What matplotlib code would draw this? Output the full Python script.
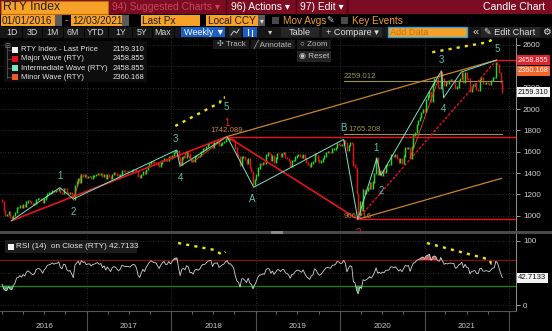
import numpy as np
import pandas as pd
import matplotlib
matplotlib.use("Agg")
import matplotlib.pyplot as plt
import matplotlib.dates as mdates
from matplotlib.patches import Rectangle

# ---------------- data ----------------
warmup_close = [1138.0, 1116.0, 1124.0, 1158.0, 1162.0, 1160.0, 1161.0, 1199.0,
                1149.0, 1180.0, 1198.0, 1177.0, 1115.0, 1123.0, 1151.0]
warmup_start, warmup_end = "2015-09-18", "2015-12-25"

close_2016 = [1135.9, 1046.2, 1007.4, 1008.9, 1035.4, 987.4, 970.8, 1002.8, 1027.4,
              1073.8, 1078.8, 1097.8, 1077.6, 1103.9, 1087.5, 1127.6, 1143.7, 1130.8,
              1114.9, 1103.0, 1111.0, 1154.8, 1163.9, 1163.9, 1150.7, 1127.0, 1157.3,
              1177.2, 1206.3, 1212.8, 1219.9, 1236.1, 1227.2, 1238.4, 1238.2, 1251.8,
              1219.5, 1212.0, 1254.7, 1251.6, 1219.0, 1208.0, 1213.5, 1187.5, 1156.9,
              1282.4, 1315.6, 1347.2, 1315.8, 1388.1, 1371.6, 1383.4, 1357.1]
close_2017 = [1367.0, 1370.3, 1352.0, 1372.4, 1377.8, 1389.2, 1397.2, 1385.9, 1394.0,
              1366.4, 1385.9, 1354.4, 1385.9, 1369.5, 1348.5, 1387.9, 1400.4, 1396.3,
              1381.5, 1368.9, 1383.8, 1424.6, 1419.0, 1415.3, 1414.8, 1415.4, 1411.7,
              1426.6, 1434.6, 1432.0, 1417.5, 1372.5, 1357.0, 1385.5, 1413.5, 1398.1,
              1435.5, 1461.6, 1490.9, 1510.2, 1502.7, 1498.0, 1497.6, 1482.3, 1465.0,
              1494.9, 1518.9, 1535.8, 1518.1, 1518.8, 1548.9, 1535.5]
close_2018 = [1560.0, 1590.6, 1605.2, 1608.0, 1547.1, 1477.8, 1544.9, 1556.0, 1544.6,
              1597.3, 1586.0, 1527.9, 1529.4, 1510.1, 1554.0, 1567.3, 1558.0, 1567.0,
              1605.0, 1627.2, 1626.0, 1647.9, 1672.3, 1683.9, 1685.5, 1643.1, 1688.1,
              1687.0, 1692.0, 1658.7, 1672.6, 1687.4, 1696.3, 1725.7, 1740.8, 1719.7,
              1721.8, 1709.4, 1696.6, 1634.1, 1573.0, 1552.1, 1469.4, 1549.5, 1549.5,
              1523.8, 1488.3, 1533.3, 1448.7, 1411.5, 1292.1, 1337.9]
close_2019 = [1380.8, 1447.4, 1484.1, 1482.8, 1502.0, 1493.7, 1568.1, 1590.1, 1585.5,
              1522.2, 1558.3, 1504.0, 1539.7, 1582.6, 1579.8, 1555.5, 1585.0, 1590.6,
              1546.2, 1535.8, 1514.2, 1465.5, 1514.4, 1518.3, 1549.6, 1566.6, 1571.6,
              1560.0, 1548.1, 1575.4, 1533.7, 1497.4, 1479.0, 1459.0, 1494.8, 1505.1,
              1578.1, 1561.0, 1523.4, 1500.6, 1511.8, 1535.5, 1558.8, 1589.3, 1596.5,
              1591.3, 1590.6, 1624.5, 1625.6, 1636.4, 1675.3, 1669.9]
close_2020 = [1660.9, 1664.9, 1699.6, 1682.4, 1614.1, 1656.8, 1687.0, 1678.6, 1476.4,
              1449.8, 1210.1, 1014.0, 1131.0, 1052.1, 1246.7, 1209.2, 1233.1, 1260.5,
              1305.9, 1256.6, 1316.2, 1394.0, 1541.6, 1387.7, 1418.1, 1378.8, 1421.3,
              1406.1, 1473.7, 1477.4, 1480.4, 1568.3, 1565.8, 1553.7, 1573.7, 1536.1,
              1497.5, 1531.4, 1489.8, 1560.0, 1635.6, 1626.6, 1640.3, 1538.5, 1644.6,
              1757.6, 1779.3, 1855.5, 1892.8, 1920.0, 1969.0, 1996.9]
close_2021 = [1974.9, 2091.7, 2123.2, 2166.7, 2073.6, 2233.3, 2281.9, 2266.5, 2201.1,
              2192.2, 2352.2, 2285.0, 2221.0, 2253.4, 2243.4, 2264.3, 2271.5, 2266.4,
              2265.4, 2190.5, 2207.4, 2268.0, 2287.3, 2338.7, 2252.5, 2345.1, 2288.9,
              2280.0, 2163.2, 2209.5, 2226.3, 2236.9, 2183.4, 2172.9, 2277.2, 2292.1,
              2240.5, 2236.9, 2248.4, 2241.4, 2233.1, 2265.5, 2292.7, 2297.2, 2437.4,
              2416.2, 2343.2, 2245.9, 2159.3]
week_first, week_last = "2016-01-01", "2021-12-03"

major_dates = ["2016-02-11", "2018-08-31", "2020-03-18", "2021-11-08"]
major_values = [953.7, 1742.089, 966.216, 2458.855]

inter_dates = ["2016-02-11", "2016-09-07", "2016-11-04", "2018-01-24", "2018-02-09",
               "2018-08-31", "2018-12-24", "2020-01-17", "2020-03-18", "2020-06-08",
               "2020-06-26", "2021-03-15", "2021-03-24", "2021-06-08", "2021-11-08"]
inter_values = [953.7, 1263.4, 1156.9, 1615.5, 1463.8, 1742.089, 1266.9, 1715.1,
                966.216, 1536.0, 1378.0, 2360.168, 2105.0, 2346.0, 2458.855]
inter_labels = ["", "1", "2", "3", "4", "5", "A", "B", "", "1", "2", "3", "4", "", "5"]

minor_segments = [
    (["2016-11-04", "2016-12-09"], [1156.9, 1388.1]),
    (["2018-02-09", "2018-03-09", "2018-04-02", "2018-08-31"], [1463.8, 1597.3, 1500.0, 1742.089]),
    (["2020-10-30", "2021-03-15"], [1538.5, 2360.168]),
]

trend_dates = ["2018-08-31", "2021-11-08"]
trend_values = [1742.089, 2458.855]
channel_dates = ["2020-03-18", "2021-11-29"]
channel_values = [966.216, 1350.0]

level_red = [("2018-08-31", 1742.089), ("2020-03-18", 966.216), ("2021-11-08", 2458.855)]
level_olive = [("2020-01-17", "2021-12-01", 1765.208), ("2020-01-17", "2021-12-01", 2259.012)]

ann_main = [(["2018-01-19", "2018-07-31", "2018-08-07", "2018-08-22"], [1841, 2061, 2108, 2108]),
            (["2021-02-03", "2021-09-28", "2021-10-12", "2021-10-24"], [2532, 2625, 2640, 2661])]
ann_rsi = [(["2018-01-31", "2018-07-09", "2018-08-08", "2018-08-24"], [96.4, 85.5, 78.4, 82.7]),
           (["2021-01-11", "2021-10-07", "2021-10-16", "2021-11-01"], [96.4, 70.8, 64.5, 68.4])]

legend_rows = [("RTY Index - Last Price", "2159.310"), ("Major Wave (RTY)", "2458.855"),
               ("Intermediate Wave (RTY)", "2458.855"), ("Minor Wave (RTY)", "2360.168")]
last_price, last_minor, rsi_last_txt = 2159.310, 2360.168, "42.7133"
price_ticks = [1000, 1200, 1400, 1600, 1800, 2000, 2200, 2400, 2600]
price_ticklabels = ["1000", "1200", "1400", "1600", "1800", "2000", "2200", "", "2600"]
rsi_ticks = [0, 50, 100]
rsi_ticklabels = ["0", "", "100"]
years = [2016, 2017, 2018, 2019, 2020, 2021]

# ---------------- styling ----------------
plt.rcParams['font.family'] = ['Liberation Sans', 'DejaVu Sans']
C_RED = '#e8121c'
C_TEAL = '#7ae6c8'
C_TEALTXT = '#5fc4b0'
C_MINOR = '#e8501e'
C_ORANGE = '#c8842c'
C_OLIVE = '#9a9440'
C_YEL = '#f2e41c'
C_GREEN = '#22dd22'
C_CRED = '#e81212'
GRID = '#3c3c3c'
AMBER = '#f7a128'

W, H = 552, 331
fig = plt.figure(figsize=(W / 100, H / 100), dpi=100, facecolor='black')

def D(s):
    return mdates.date2num(pd.Timestamp(s))

def Ds(lst):
    return [D(s) for s in lst]

closes = np.array(close_2016 + close_2017 + close_2018 + close_2019 + close_2020 + close_2021)
dates = pd.date_range(week_first, week_last, freq='W-FRI')
assert len(dates) == len(closes), (len(dates), len(closes))
wdates = pd.date_range(warmup_start, warmup_end, freq='W-FRI')
assert len(wdates) == len(warmup_close)
xd = mdates.date2num(dates)
opens = np.r_[warmup_close[-1], closes[:-1]]

allc = pd.Series(list(warmup_close) + list(closes))
delta = allc.diff()
ag = delta.clip(lower=0).ewm(alpha=1 / 14, adjust=False).mean()
al = (-delta.clip(upper=0)).ewm(alpha=1 / 14, adjust=False).mean()
rsi = (100 - 100 / (1 + ag / al)).values[len(warmup_close):]

XL = (D("2015-12-23"), D("2022-01-31"))

# ---------------- main price panel ----------------
ax = fig.add_axes([0, 1 - 231 / H, 516 / W, (231 - 38) / H])
ax.set_facecolor('black')
ax.set_xlim(*XL)
ax.set_ylim(856.6, 2665.6)
for y in price_ticks:
    ax.axhline(y, color=GRID, lw=0.6, ls=(0, (1, 2)), zorder=0)
for yr in years[1:] + [2022]:
    ax.axvline(D(f"{yr}-01-01"), color=GRID, lw=0.6, ls=(0, (1, 2)), zorder=0)

up = closes >= opens
lo = np.minimum(opens, closes) - 6
hi = np.maximum(opens, closes) + 6
ax.vlines(xd, lo, hi, colors=np.where(up, C_GREEN, C_CRED), lw=1.05, zorder=2)

# wave lines
mx, my = Ds(major_dates), major_values
ax.plot(mx[:3], my[:3], color=C_RED, lw=1.2, zorder=4)
ax.plot(mx[2:], my[2:], color=C_RED, lw=1.0, ls=(0, (2, 1.2)), zorder=4)
ax.plot(Ds(inter_dates), inter_values, color=C_TEAL, lw=0.7, zorder=5)
for ds, vs in minor_segments:
    ax.plot(Ds(ds), vs, color=C_MINOR, lw=0.6, zorder=5)
ax.plot(Ds(trend_dates), trend_values, color=C_ORANGE, lw=0.9, zorder=3)
ax.plot(Ds(channel_dates), channel_values, color=C_ORANGE, lw=0.9, zorder=3)
for d0, v in level_red:
    ax.plot([D(d0), XL[1]], [v, v], color=C_RED, lw=1.0, zorder=3)
for d0, d1, v in level_olive:
    ax.plot([D(d0), D(d1)], [v, v], color=C_OLIVE, lw=0.8, zorder=3)

label_offsets = [(0, 0), (0, 12), (0, -13), (-1, 11), (0, -12), (-1, 30), (-1, -12), (0, 11),
                 (0, 0), (-1, 11), (0, -16), (0, 11), (0, -11), (0, 0), (1, 11)]
for d, v, lab, off in zip(inter_dates, inter_values, inter_labels, label_offsets):
    if lab:
        ax.annotate(lab, (D(d), v), xytext=off, textcoords='offset pixels', ha='center',
                    va='center', fontsize=7, color=C_TEALTXT, zorder=6)

ax.annotate(f"{major_values[1]:.3f}", (mx[1], my[1]), xytext=(0, 3), textcoords='offset pixels',
            ha='center', va='bottom', fontsize=5.6, color=C_ORANGE, zorder=6)
ax.annotate("1", (mx[1], my[1]), xytext=(0, 14), textcoords='offset pixels',
            ha='center', va='center', fontsize=7, color='#ff2222', zorder=6)
ax.annotate(f"{major_values[2]:.3f}", (mx[2], my[2]), xytext=(0, 3), textcoords='offset pixels',
            ha='center', va='center', fontsize=5.6, color=C_ORANGE, zorder=6)
ax.annotate("2", (mx[2], my[2]), xytext=(0, -14), textcoords='offset pixels',
            ha='center', va='center', fontsize=7, color='#ff2222', zorder=6,
            annotation_clip=False).set_clip_on(True)
for d0, d1, v in level_olive:
    ax.annotate(f"{v:.3f}", (D(d0), v), xytext=(5 if v < 2000 else 0, 1), textcoords='offset pixels',
                ha='left', va='bottom', fontsize=5.6, color=C_OLIVE, zorder=6)

for ds, vs in ann_main:
    ax.plot(Ds(ds), vs, color=C_YEL, lw=1.7, ls=(0, (1.3, 2.2)), solid_capstyle='butt', zorder=7, clip_on=False)

ax.yaxis.tick_right()
ax.set_yticks(price_ticks)
ax.set_yticklabels(price_ticklabels)
ax.tick_params(axis='y', colors='#a0a0a0', labelcolor='#d0d0d0', labelsize=5.8, length=3, width=0.7, pad=2)
ax.tick_params(axis='x', bottom=False, labelbottom=False)
for s in ['top', 'left', 'bottom']:
    ax.spines[s].set_visible(False)
ax.spines['right'].set_color('#8a8a8a')
ax.spines['right'].set_linewidth(0.8)

tr = ax.get_yaxis_transform()
for v, txt, fc, tc in [(major_values[-1], f"{major_values[-1]:.3f}", '#e3222a', 'white'),
                       (last_minor, f"{last_minor:.3f}", '#f2662e', 'white'),
                       (last_price, f"{last_price:.3f}", '#f2f2f2', '#101010')]:
    ax.text(1.004, v, txt, transform=tr, ha='left', va='center', fontsize=5.3, color=tc, zorder=9,
            clip_on=False, bbox=dict(boxstyle='square,pad=0.2', fc=fc, ec='none'))

# ---------------- RSI panel ----------------
ax2 = fig.add_axes([0, 1 - 311 / H, 516 / W, (311 - 233) / H])
ax2.set_facecolor('black')
ax2.set_xlim(*XL)
ax2.set_ylim(-9.3, 112)
for y in rsi_ticks:
    ax2.axhline(y, color=GRID, lw=0.6, ls=(0, (1, 2)), zorder=0)
for yr in years[1:] + [2022]:
    ax2.axvline(D(f"{yr}-01-01"), color=GRID, lw=0.6, ls=(0, (1, 2)), zorder=0)
ax2.axhline(70, color='#8a1010', lw=0.9, zorder=1)
ax2.axhline(30, color='#0c8c14', lw=0.9, zorder=1)
ax2.fill_between(xd, 70, rsi, where=rsi > 70, color='#c86464', lw=0, interpolate=True, zorder=2)
ax2.fill_between(xd, 30, rsi, where=rsi < 30, color='#3cae4c', lw=0, interpolate=True, zorder=2)
ax2.plot(xd, rsi, color='#d4d4d4', lw=0.6, zorder=3)
for ds, vs in ann_rsi:
    ax2.plot(Ds(ds), vs, color=C_YEL, lw=1.7, ls=(0, (1.3, 2.2)), solid_capstyle='butt', zorder=7)

ax2.yaxis.tick_right()
ax2.set_yticks(rsi_ticks)
ax2.set_yticklabels(rsi_ticklabels)
ax2.tick_params(axis='y', colors='#a0a0a0', labelcolor='#d0d0d0', labelsize=5.8, length=3, width=0.7, pad=2)
ax2.set_xticks([D(f"{y}-07-02") for y in years])
ax2.set_xticklabels([str(y) for y in years])
ax2.tick_params(axis='x', length=0, pad=9, labelsize=5.8, labelcolor='#c8c8c8')
ax2.xaxis.set_minor_locator(mdates.MonthLocator(bymonth=[1, 4, 7, 10]))
ax2.tick_params(axis='x', which='minor', length=2, color='#808080', width=0.6)
for s in ['top', 'left']:
    ax2.spines[s].set_visible(False)
ax2.spines['bottom'].set_color('#555555')
ax2.spines['right'].set_color('#8a8a8a')
ax2.spines['right'].set_linewidth(0.8)
xt = ax2.get_xaxis_transform()
for yr in years[1:] + [2022]:
    ax2.plot([D(f"{yr}-01-01")] * 2, [-0.03, -0.26], transform=xt, clip_on=False, color='#505050', lw=0.8)
ax2.text(1.004, rsi[-1], rsi_last_txt, transform=ax2.get_yaxis_transform(), ha='left', va='center',
         fontsize=5.6, color='#101010', clip_on=False, zorder=9,
         bbox=dict(boxstyle='square,pad=0.2', fc='#f2f2f2', ec='none'))

# ---------------- terminal chrome (pixel overlay) ----------------
ui = fig.add_axes([0, 0, 1, 1], zorder=20)
ui.set_xlim(0, W)
ui.set_ylim(H, 0)
ui.axis('off')
ui.patch.set_alpha(0)

def rect(x0, y0, x1, y1, fc, ec='none', lw=0.8):
    ui.add_patch(Rectangle((x0, y0), x1 - x0, y1 - y0, facecolor=fc, edgecolor=ec, linewidth=lw))

def t(x, y, s, size=7, color='white', ha='left', va='center', **kw):
    ui.text(x, y, s, fontsize=size, color=color, ha=ha, va=va, **kw)

# row 1
rect(0, 0, W, 14, '#7b0c21')
rect(0.5, 0.5, 108, 13.5, AMBER, ec='#b86a10')
t(3, 7.4, 'RTY Index', 8.8, '#202020')
t(112, 7.4, '94) Suggested Charts ▾', 7.4, '#c8475c')
for xs in [226, 296, 347]:
    ui.plot([xs, xs], [0, 14], color='#4a0010', lw=1)
t(231, 7.4, '96) Actions ▾', 7.4, 'white')
t(300, 7.4, '97) Edit ▾', 7.4, 'white')
t(545, 7.4, 'Candle Chart', 7.6, 'white', ha='right')

# row 2
for x0, x1, s in [(0.5, 55, '01/01/2016'), (71, 122, '12/03/2021'), (141, 200, 'Last Px'), (206, 258, 'Local CCY')]:
    rect(x0, 15, x1, 25.5, AMBER)
    t(x0 + 1.5, 20.5, s, 7.2, '#1a1a1a')
for x0 in [55, 122, 258]:
    rect(x0, 15, x0 + 7, 25.5, '#5a5a5a')
t(261.5, 20.2, '▾', 5.5, '#dddddd', ha='center', family='DejaVu Sans')
t(66, 20.3, '-', 7.3, AMBER, ha='center')
rect(272, 16.5, 279, 23.5, '#4a4a4a')
t(283, 20.5, 'Mov Avgs', 7.2, '#f0a030')
t(326, 20.3, '✎', 6.5, '#d0d0d0', family='DejaVu Sans')
rect(341, 16.5, 348, 23.5, '#4a4a4a')
t(352, 20.5, 'Key Events', 7.2, '#f0a030')

# row 3
rect(0, 26.5, W, 37.5, '#171717')
for s, xc in [('1D', 12), ('3D', 32), ('1M', 52.5), ('6M', 73), ('YTD', 96), ('1Y', 120.5), ('5Y', 142.5), ('Max', 162.5)]:
    t(xc, 32.2, s, 6.3, '#d8d8d8', ha='center')
for xs in [22, 42, 63, 84, 108, 132, 152, 174]:
    ui.plot([xs, xs], [27, 37], color='#050505', lw=0.8)
rect(181, 27, 225, 37, '#1b5fc6')
t(184, 32.2, 'Weekly ▼', 6.5, 'white')
rect(229, 27, 241, 37, '#262626')
ui.plot([231, 234, 236.5, 239], [35, 31, 33, 29.5], color='#c8c8c8', lw=0.7)
rect(243, 27, 257, 37, '#1b5fc6')
ui.plot([248, 248], [29, 35], color='white', lw=0.8)
ui.plot([252, 252], [30, 35.5], color='white', lw=0.8)
t(270, 32, '▾', 6, '#c8c8c8', ha='center', family='DejaVu Sans')
rect(281, 27, 319, 37, '#262626')
t(300, 32.2, 'Table', 6.6, '#e0e0e0', ha='center')
rect(322, 27, 382, 37, '#262626')
t(326, 32.2, '+ Compare ▾', 6.6, '#e0e0e0')
rect(388, 27, 467, 37, AMBER, ec='#2aa6dc', lw=1.0)
t(390, 32.2, 'Add Data', 6.6, '#c47410')
t(476, 32, '«', 8, '#e0e0e0', ha='center')
rect(481, 27, 540, 37, '#262626')
t(484, 32.2, '✎ Edit Chart', 6.6, '#e0e0e0')
t(546, 32, '⚙', 7, '#e0e0e0', ha='center', family='DejaVu Sans')

# chart toolbar buttons
for x0, x1, s in [(213, 249, '✣ Track'), (251, 295, '╱ Annotate'), (297, 331, '○ Zoom')]:
    rect(x0, 40, x1, 48.5, '#1a1a1a')
    t((x0 + x1) / 2, 44.4, s, 5.8, '#b8b8b8', ha='center')
rect(297, 50.5, 331, 62, '#242424')
t(314, 56.3, '◉ Reset', 5.8, '#c8c8c8', ha='center')

# price legend
rect(4, 41, 147, 82, '#0d0d0d')
ui.plot([7, 7], [46, 78], color='#555555', lw=0.6)
t(7, 45.5, '⊟', 5, '#888888', ha='center', family='DejaVu Sans')
sq = ['#f0f0f0', C_RED, C_TEAL, '#f0581e']
for i, ((name, val), c) in enumerate(zip(legend_rows, sq)):
    yc = 49.5 + 9.3 * i
    ui.plot([7, 11], [yc, yc], color='#555555', lw=0.6)
    rect(12, yc - 3, 18, yc + 3, c)
    t(21, yc, name, 5.5, '#e6e6e6')
    t(144, yc, val, 5.5, '#e6e6e6', ha='right')

# RSI legend
rect(5, 240, 137, 253, '#1c1c1c')
rect(8, 243.5, 14, 249.5, '#f0f0f0')
t(16, 246.6, 'RSI (14)  on Close (RTY) ' + rsi_last_txt, 5.9, '#e6e6e6')

# panel separators
rect(0, 231, W, 233.5, '#4a4a4a')
rect(271, 231, 283, 233.5, '#8a8a8a')

fig.savefig('out.png', dpi=100, facecolor='black')
